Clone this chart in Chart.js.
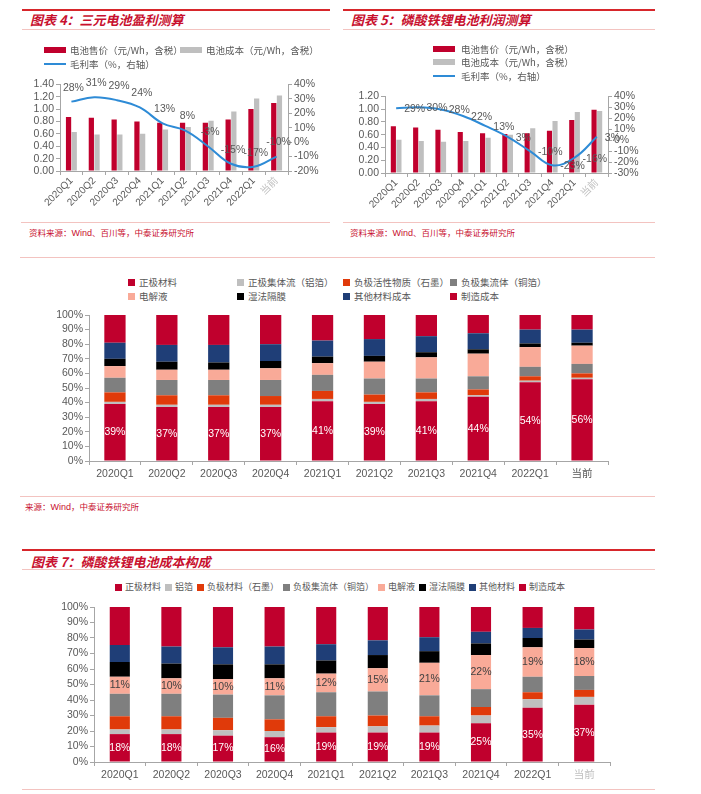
<!DOCTYPE html>
<html>
<head>
<meta charset="utf-8">
<script src="https://cdn.jsdelivr.net/npm/chart.js@4.4.1/dist/chart.umd.min.js"></script>
<style>
  body { margin:0; background:#fff; }
  #page { position:relative; width:701px; height:794px; overflow:hidden; background:#fff;
          font-family:"Liberation Sans","Noto Sans CJK SC",sans-serif; }
  .redline { position:absolute; height:2px; background:#d7262b; }
  .pink { position:absolute; height:1px; background:#f3c3c0; }
  .title { position:absolute; color:#c8102e; font-weight:bold; font-style:italic; font-size:13px;
           line-height:16px; font-family:"Noto Sans CJK SC",sans-serif; white-space:nowrap; }
  .src { position:absolute; color:#c8102e; font-size:8.5px; line-height:12px; white-space:nowrap;
         font-family:"Noto Sans CJK SC",sans-serif; }
  .src b { font-family:"Liberation Sans",sans-serif; font-weight:normal; font-size:9px; }
  .lg { position:absolute; font-size:9.5px; line-height:12px; color:#595959; white-space:nowrap;
        font-family:"Noto Sans CJK SC",sans-serif; }
  .sw { position:absolute; }
  .box { position:absolute; }
</style>
</head>
<body>
<div id="page">
  <!-- 图表4 / 图表5 headers -->
  <div class="redline" style="left:22px;top:9px;width:308px"></div>
  <div class="redline" style="left:343px;top:9px;width:312px"></div>
  <div class="title" style="left:30px;top:12px">图表 4：三元电池盈利测算</div>
  <div class="title" style="left:351px;top:12px">图表 5：磷酸铁锂电池利润测算</div>
  <div class="pink" style="left:22px;top:29px;width:308px"></div>
  <div class="pink" style="left:343px;top:29px;width:312px"></div>

  <div class="box" style="left:22px;top:76px;width:300px;height:142px"><canvas id="ncmProfit"></canvas></div>
  <div class="box" style="left:345px;top:88px;width:300px;height:130px"><canvas id="lfpProfit"></canvas></div>

  <div class="pink" style="left:21px;top:222px;width:309px"></div>
  <div class="pink" style="left:343px;top:222px;width:312px"></div>
  <div class="src" style="left:29px;top:226px">资料来源：<b>Wind</b>、百川等，中泰证券研究所</div>
  <div class="src" style="left:350px;top:226px">资料来源：<b>Wind</b>、百川等，中泰证券研究所</div>

  <!-- 三元成本构成 -->
  <div class="pink" style="left:20px;top:257px;width:635px"></div>
  <div class="box" style="left:38px;top:305px;width:585px;height:180px"><canvas id="ncmCost"></canvas></div>
  <div class="pink" style="left:20px;top:496px;width:635px"></div>
  <div class="src" style="left:25px;top:500px">来源：<b>Wind</b>，中泰证券研究所</div>

  <!-- 图表7 -->
  <div class="redline" style="left:22px;top:549px;width:633px"></div>
  <div class="title" style="left:31px;top:554px">图表 7：磷酸铁锂电池成本构成</div>
  <div class="pink" style="left:22px;top:569px;width:633px"></div>
  <div class="box" style="left:43px;top:597px;width:585px;height:187px"><canvas id="lfpCost"></canvas></div>
  <div class="pink" style="left:22px;top:789px;width:633px"></div>
</div>

<script>
// ---- data ----
const QUARTERS = ['2020Q1','2020Q2','2020Q3','2020Q4','2021Q1','2021Q2','2021Q3','2021Q4','2022Q1','当前'];

// 图表4 三元电池 (元/Wh) and gross margin (%)
const NCM_PRICE  = [0.87, 0.86, 0.83, 0.80, 0.78, 0.78, 0.78, 0.83, 1.00, 1.10];
const NCM_COST   = [0.63, 0.59, 0.59, 0.60, 0.67, 0.71, 0.81, 0.96, 1.17, 1.22];
const NCM_MARGIN = [28, 31, 29, 24, 13, 8, -3, -15, -17, -10];
const NCM_LEFT_TICKS  = [0, 0.2, 0.4, 0.6, 0.8, 1.0, 1.2, 1.4];
const NCM_RIGHT_TICKS = [-20, -10, 0, 10, 20, 30, 40];

// 图表5 磷酸铁锂电池
const LFP_PRICE  = [0.73, 0.71, 0.675, 0.64, 0.62, 0.61, 0.62, 0.66, 0.83, 0.99];
const LFP_COST   = [0.52, 0.50, 0.49, 0.50, 0.55, 0.60, 0.70, 0.815, 0.955, 0.97];
const LFP_MARGIN = [29, 30, 28, 22, 13, 3, -10, -23, -16, 3];
const LFP_LEFT_TICKS  = [0, 0.2, 0.4, 0.6, 0.8, 1.0, 1.2];
const LFP_RIGHT_TICKS = [-30, -20, -10, 0, 10, 20, 30, 40];

const PROFIT_SERIES = ['电池售价（元/Wh，含税）', '电池成本（元/Wh，含税）', '毛利率（%，右轴）'];

// 三元电池成本构成 (%)
const NCM_PARTS = ['正极材料','正极集体流（铝箔）','负极活性物质（石墨）','负极集流体（铜箔）','电解液','湿法隔膜','其他材料成本','制造成本'];
const NCM_CATHODE = [39, 37, 37, 37, 41, 39, 41, 44, 54, 56];
const NCM_AL      = [1.5, 1.5, 1.5, 1.5, 1.5, 1.5, 1.5, 1, 1, 1];
const NCM_ANODE   = [6.5, 6.5, 6.5, 6, 5.5, 5, 4.5, 4, 3, 3];
const NCM_CU      = [10, 10.5, 10.5, 11, 11, 11, 9.5, 9, 6.5, 6.5];
const NCM_ELEC    = [8, 7, 7, 8, 8, 11.5, 14.5, 15.5, 13.5, 12.5];
const NCM_SEP     = [5, 5.5, 5, 5, 4.5, 4, 3.5, 3, 2.5, 2];
const NCM_OTHER   = [11, 11.5, 12, 11.5, 11, 11.5, 11, 11, 9.5, 9];
const NCM_MFG     = [19, 20.5, 20.5, 20, 17.5, 16.5, 14.5, 12.5, 10, 10];

// 图表7 磷酸铁锂电池成本构成 (%)
const LFP_PARTS = ['正极材料','铝箔','负极材料（石墨）','负极集流体（铜箔）','电解液','湿法隔膜','其他材料','制造成本'];
const LFP_CATHODE = [18, 18, 17, 16, 19, 19, 19, 25, 35, 37];
const LFP_AL      = [3, 3, 3.5, 4, 3.5, 4, 4.5, 5, 5.5, 5];
const LFP_ANODE   = [8.5, 8.5, 8, 7.5, 7, 7, 6, 5.5, 4.5, 4.5];
const LFP_CU      = [14.5, 14.5, 15, 15.5, 15.5, 15.5, 13.5, 11.5, 10, 9];
const LFP_ELEC    = [11, 10, 10, 11, 12, 15, 21, 22, 19, 18];
const LFP_SEP     = [9.5, 9.5, 9.5, 9, 8.5, 8.5, 7.5, 7.5, 6, 5.5];
const LFP_OTHER   = [11, 11, 11, 11.5, 10.5, 9.5, 9, 7.5, 6.5, 6.5];
const LFP_MFG     = [24.5, 25.5, 26, 25.5, 24, 21.5, 19.5, 16, 13.5, 14.5];

const PCT_TICKS = [0, 10, 20, 30, 40, 50, 60, 70, 80, 90, 100];

// ---- style ----
const RED = '#C0002D', GREY_BAR = '#BFBFBF', BLUE = '#2E8BD6';
const PART_COLORS = ['#C0002D','#BFBFBF','#E03A0A','#7F7F7F','#F9AA98','#000000','#1F3E77','#C0002D'];
const TEXT_GREY = '#595959', AXIS_GREY = '#A6A6A6';

Chart.defaults.font.family = '"Liberation Sans","Noto Sans CJK SC",sans-serif';
Chart.defaults.font.size = 10;
Chart.defaults.color = TEXT_GREY;
Chart.defaults.animation = false;
Chart.defaults.plugins.legend.display = false;
Chart.defaults.plugins.tooltip.enabled = false;

// draws "xx%" next to points / inside bar segments
const valueLabels = {
  id: 'valueLabels',
  afterDatasetsDraw(chart) {
    const ctx = chart.ctx;
    chart.data.datasets.forEach((ds, di) => {
      const lab = ds.valueLabel;
      if (!lab) return;
      const meta = chart.getDatasetMeta(di);
      ctx.save();
      ctx.font = lab.font || '10.5px "Liberation Sans"';
      ctx.fillStyle = lab.color;
      ctx.textAlign = lab.align || 'center';
      ctx.textBaseline = 'middle';
      meta.data.forEach((el, i) => {
        const y = meta.type === 'bar' ? (el.y + el.base) / 2 : el.y;
        ctx.fillText(Math.round(ds.data[i]) + '%', el.x + (lab.dx || 0), y + (lab.dy || 0));
      });
      ctx.restore();
    });
  }
};

const fixedTicks = vals => s => { s.ticks = vals.map(v => ({ value: v })); };

function valueAxis(pos, vals, fmt, width) {
  return {
    position: pos, min: vals[0], max: vals[vals.length - 1],
    afterBuildTicks: fixedTicks(vals),
    afterFit: s => { s.width = width; },
    grid: { drawOnChartArea: false, drawTicks: true, tickLength: 4, color: AXIS_GREY },
    border: { display: true, color: AXIS_GREY },
    ticks: { autoSkip: false, callback: fmt, padding: 2, color: TEXT_GREY, font: { size: 10.5 } }
  };
}

function catAxis(height, rotated, fadeLast) {
  return {
    afterFit: s => { s.height = height; },
    grid: { drawOnChartArea: false, drawTicks: true, tickLength: 4, color: AXIS_GREY },
    border: { display: true, color: AXIS_GREY },
    ticks: {
      autoSkip: false, padding: rotated ? 0 : 3,
      maxRotation: rotated ? 45 : 0, minRotation: rotated ? 45 : 0,
      color: c => (fadeLast && c.index === QUARTERS.length - 1) ? '#BFBFBF' : TEXT_GREY,
      font: { size: rotated ? 10 : 10.5 }
    }
  };
}

function profitChart(id, price, cost, margin, leftTicks, rightTicks, sizes, lab) {
  new Chart(document.getElementById(id), {
    type: 'bar',
    data: {
      labels: QUARTERS,
      datasets: [
        { label: PROFIT_SERIES[0], data: price, backgroundColor: RED, yAxisID: 'y',
          categoryPercentage: 0.5, barPercentage: 0.92, order: 2 },
        { label: PROFIT_SERIES[1], data: cost, backgroundColor: GREY_BAR, yAxisID: 'y',
          categoryPercentage: 0.5, barPercentage: 0.92, order: 2 },
        { type: 'line', label: PROFIT_SERIES[2], data: margin, yAxisID: 'y1',
          borderColor: BLUE, borderWidth: 2, pointRadius: 0, tension: 0.4, order: 1,
          valueLabel: lab }
      ]
    },
    options: {
      responsive: true, maintainAspectRatio: false,
      layout: { padding: { top: sizes.top, right: 0, left: 0, bottom: 0 } },
      scales: {
        x: catAxis(sizes.xh, true, true),
        y: valueAxis('left', leftTicks, v => v.toFixed(2), sizes.lw),
        y1: valueAxis('right', rightTicks, v => v + '%', sizes.rw)
      }
    },
    plugins: [valueLabels]
  });
}

profitChart('ncmProfit', NCM_PRICE, NCM_COST, NCM_MARGIN, NCM_LEFT_TICKS, NCM_RIGHT_TICKS,
  { top: 7, xh: 47, lw: 38, rw: 34 },
  { color: TEXT_GREY, dx: 2, dy: -14 });
profitChart('lfpProfit', LFP_PRICE, LFP_COST, LFP_MARGIN, LFP_LEFT_TICKS, LFP_RIGHT_TICKS,
  { top: 8, xh: 45, lw: 40, rw: 37 },
  { color: TEXT_GREY, dx: 8, dy: 1, align: 'left' });

function costChart(id, names, series, labelled, sizes) {
  new Chart(document.getElementById(id), {
    type: 'bar',
    data: {
      labels: QUARTERS,
      datasets: series.map((d, i) => ({
        label: names[i], data: d, backgroundColor: PART_COLORS[i],
        categoryPercentage: 1, barPercentage: sizes.bar,
        valueLabel: labelled[i] || null
      }))
    },
    options: {
      responsive: true, maintainAspectRatio: false,
      layout: { padding: { top: sizes.top, right: sizes.right, left: 0, bottom: 0 } },
      scales: {
        x: Object.assign(catAxis(sizes.xh, false, sizes.fade), { stacked: true }),
        y: Object.assign(valueAxis('left', PCT_TICKS, v => v + '%', sizes.lw), { stacked: true })
      }
    },
    plugins: [valueLabels]
  });
}

costChart('ncmCost', NCM_PARTS,
  [NCM_CATHODE, NCM_AL, NCM_ANODE, NCM_CU, NCM_ELEC, NCM_SEP, NCM_OTHER, NCM_MFG],
  { 0: { color: '#FFFFFF' } },
  { top: 10, right: 15, xh: 24, lw: 51, bar: 0.41, fade: false });

costChart('lfpCost', LFP_PARTS,
  [LFP_CATHODE, LFP_AL, LFP_ANODE, LFP_CU, LFP_ELEC, LFP_SEP, LFP_OTHER, LFP_MFG],
  { 0: { color: '#FFFFFF' }, 4: { color: '#404040' } },
  { top: 10, right: 18, xh: 22, lw: 51, bar: 0.39, fade: true });

// ---- html legends ----
const page = document.getElementById('page');
function legendItem(x, y, text, sw) {
  const s = document.createElement('div');
  s.className = 'sw';
  s.style.cssText = `left:${x}px;top:${y - sw.h / 2}px;width:${sw.w}px;height:${sw.h}px;background:${sw.c}`;
  page.appendChild(s);
  const t = document.createElement('div');
  t.className = 'lg';
  t.textContent = text;
  t.style.left = (x + sw.w + sw.gap) + 'px';
  t.style.top = (y - 6) + 'px';
  if (sw.fs) t.style.fontSize = sw.fs + 'px';
  page.appendChild(t);
  return t;
}
// 图表4 legend
legendItem(44, 50, PROFIT_SERIES[0], { w: 22, h: 6, c: RED, gap: 4 });
legendItem(180, 50, PROFIT_SERIES[1], { w: 22, h: 6, c: GREY_BAR, gap: 4 });
legendItem(44, 64, PROFIT_SERIES[2], { w: 22, h: 2, c: BLUE, gap: 4 });
// 图表5 legend
legendItem(433, 49, PROFIT_SERIES[0], { w: 22, h: 6, c: RED, gap: 6 });
legendItem(433, 62, PROFIT_SERIES[1], { w: 22, h: 6, c: GREY_BAR, gap: 6 });
legendItem(433, 76, PROFIT_SERIES[2], { w: 22, h: 2, c: BLUE, gap: 6 });
// 三元成本 legend: 4 columns x 2 rows
const NCM_LEG_X = [128, 237, 343, 450];
NCM_PARTS.forEach((n, i) => {
  legendItem(NCM_LEG_X[i % 4], i < 4 ? 282 : 296, n, { w: 7, h: 7, c: PART_COLORS[i], gap: 4 });
});
// 图表7 legend: one row
let lx = 115;
LFP_PARTS.forEach((n, i) => {
  const t = legendItem(lx, 587, n, { w: 7, h: 7, c: PART_COLORS[i], gap: 3, fs: 9 });
  lx = t.offsetLeft + t.offsetWidth + 4;
});
</script>
</body>
</html>
